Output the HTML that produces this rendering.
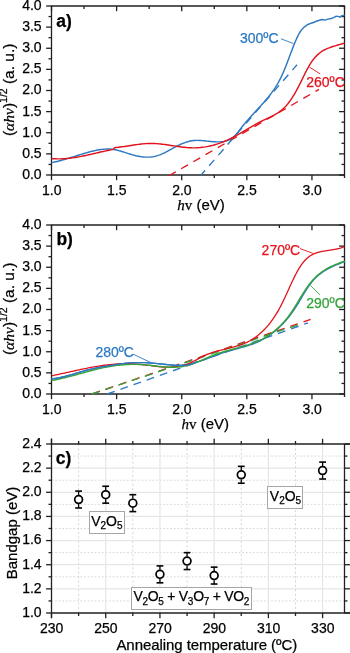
<!DOCTYPE html>
<html><head><meta charset="utf-8"><title>Bandgap figure</title>
<style>
html,body{margin:0;padding:0;background:#fff;width:350px;height:653px;overflow:hidden;}
svg{display:block;will-change:transform;}
text{font-family:"Liberation Sans",sans-serif;stroke-width:0.25px;stroke-linejoin:round;}
</style></head><body>
<svg width="350" height="653" viewBox="0 0 350 653">
<line x1="51.50" y1="6.00" x2="344.50" y2="6.00" stroke="#202020" stroke-width="1.30" />
<line x1="51.50" y1="175.00" x2="344.50" y2="175.00" stroke="#202020" stroke-width="1.30" />
<line x1="51.50" y1="5.50" x2="51.50" y2="175.50" stroke="#202020" stroke-width="1.30" />
<line x1="344.50" y1="5.50" x2="344.50" y2="175.50" stroke="#202020" stroke-width="1.30" />
<line x1="46.10" y1="175.00" x2="51.50" y2="175.00" stroke="#202020" stroke-width="1.30" />
<line x1="339.10" y1="175.00" x2="344.50" y2="175.00" stroke="#202020" stroke-width="1.30" />
<text x="41.60" y="178.90" font-size="14.00" text-anchor="end" fill="#000" stroke="#000" >0.0</text>
<line x1="48.50" y1="164.44" x2="51.50" y2="164.44" stroke="#202020" stroke-width="1.30" />
<line x1="341.50" y1="164.44" x2="344.50" y2="164.44" stroke="#202020" stroke-width="1.30" />
<line x1="46.10" y1="153.88" x2="51.50" y2="153.88" stroke="#202020" stroke-width="1.30" />
<line x1="339.10" y1="153.88" x2="344.50" y2="153.88" stroke="#202020" stroke-width="1.30" />
<text x="41.60" y="157.78" font-size="14.00" text-anchor="end" fill="#000" stroke="#000" >0.5</text>
<line x1="48.50" y1="143.31" x2="51.50" y2="143.31" stroke="#202020" stroke-width="1.30" />
<line x1="341.50" y1="143.31" x2="344.50" y2="143.31" stroke="#202020" stroke-width="1.30" />
<line x1="46.10" y1="132.75" x2="51.50" y2="132.75" stroke="#202020" stroke-width="1.30" />
<line x1="339.10" y1="132.75" x2="344.50" y2="132.75" stroke="#202020" stroke-width="1.30" />
<text x="41.60" y="136.65" font-size="14.00" text-anchor="end" fill="#000" stroke="#000" >1.0</text>
<line x1="48.50" y1="122.19" x2="51.50" y2="122.19" stroke="#202020" stroke-width="1.30" />
<line x1="341.50" y1="122.19" x2="344.50" y2="122.19" stroke="#202020" stroke-width="1.30" />
<line x1="46.10" y1="111.62" x2="51.50" y2="111.62" stroke="#202020" stroke-width="1.30" />
<line x1="339.10" y1="111.62" x2="344.50" y2="111.62" stroke="#202020" stroke-width="1.30" />
<text x="41.60" y="115.53" font-size="14.00" text-anchor="end" fill="#000" stroke="#000" >1.5</text>
<line x1="48.50" y1="101.06" x2="51.50" y2="101.06" stroke="#202020" stroke-width="1.30" />
<line x1="341.50" y1="101.06" x2="344.50" y2="101.06" stroke="#202020" stroke-width="1.30" />
<line x1="46.10" y1="90.50" x2="51.50" y2="90.50" stroke="#202020" stroke-width="1.30" />
<line x1="339.10" y1="90.50" x2="344.50" y2="90.50" stroke="#202020" stroke-width="1.30" />
<text x="41.60" y="94.40" font-size="14.00" text-anchor="end" fill="#000" stroke="#000" >2.0</text>
<line x1="48.50" y1="79.94" x2="51.50" y2="79.94" stroke="#202020" stroke-width="1.30" />
<line x1="341.50" y1="79.94" x2="344.50" y2="79.94" stroke="#202020" stroke-width="1.30" />
<line x1="46.10" y1="69.38" x2="51.50" y2="69.38" stroke="#202020" stroke-width="1.30" />
<line x1="339.10" y1="69.38" x2="344.50" y2="69.38" stroke="#202020" stroke-width="1.30" />
<text x="41.60" y="73.28" font-size="14.00" text-anchor="end" fill="#000" stroke="#000" >2.5</text>
<line x1="48.50" y1="58.81" x2="51.50" y2="58.81" stroke="#202020" stroke-width="1.30" />
<line x1="341.50" y1="58.81" x2="344.50" y2="58.81" stroke="#202020" stroke-width="1.30" />
<line x1="46.10" y1="48.25" x2="51.50" y2="48.25" stroke="#202020" stroke-width="1.30" />
<line x1="339.10" y1="48.25" x2="344.50" y2="48.25" stroke="#202020" stroke-width="1.30" />
<text x="41.60" y="52.15" font-size="14.00" text-anchor="end" fill="#000" stroke="#000" >3.0</text>
<line x1="48.50" y1="37.69" x2="51.50" y2="37.69" stroke="#202020" stroke-width="1.30" />
<line x1="341.50" y1="37.69" x2="344.50" y2="37.69" stroke="#202020" stroke-width="1.30" />
<line x1="46.10" y1="27.12" x2="51.50" y2="27.12" stroke="#202020" stroke-width="1.30" />
<line x1="339.10" y1="27.12" x2="344.50" y2="27.12" stroke="#202020" stroke-width="1.30" />
<text x="41.60" y="31.02" font-size="14.00" text-anchor="end" fill="#000" stroke="#000" >3.5</text>
<line x1="48.50" y1="16.56" x2="51.50" y2="16.56" stroke="#202020" stroke-width="1.30" />
<line x1="341.50" y1="16.56" x2="344.50" y2="16.56" stroke="#202020" stroke-width="1.30" />
<line x1="46.10" y1="6.00" x2="51.50" y2="6.00" stroke="#202020" stroke-width="1.30" />
<line x1="339.10" y1="6.00" x2="344.50" y2="6.00" stroke="#202020" stroke-width="1.30" />
<text x="41.60" y="9.90" font-size="14.00" text-anchor="end" fill="#000" stroke="#000" >4.0</text>
<line x1="51.50" y1="175.00" x2="51.50" y2="180.20" stroke="#202020" stroke-width="1.30" />
<line x1="51.50" y1="6.00" x2="51.50" y2="11.20" stroke="#202020" stroke-width="1.30" />
<text x="51.70" y="195.20" font-size="14.00" text-anchor="middle" fill="#000" stroke="#000" >1.0</text>
<line x1="84.06" y1="175.00" x2="84.06" y2="178.00" stroke="#202020" stroke-width="1.30" />
<line x1="84.06" y1="6.00" x2="84.06" y2="9.00" stroke="#202020" stroke-width="1.30" />
<line x1="116.61" y1="175.00" x2="116.61" y2="180.20" stroke="#202020" stroke-width="1.30" />
<line x1="116.61" y1="6.00" x2="116.61" y2="11.20" stroke="#202020" stroke-width="1.30" />
<text x="116.81" y="195.20" font-size="14.00" text-anchor="middle" fill="#000" stroke="#000" >1.5</text>
<line x1="149.17" y1="175.00" x2="149.17" y2="178.00" stroke="#202020" stroke-width="1.30" />
<line x1="149.17" y1="6.00" x2="149.17" y2="9.00" stroke="#202020" stroke-width="1.30" />
<line x1="181.72" y1="175.00" x2="181.72" y2="180.20" stroke="#202020" stroke-width="1.30" />
<line x1="181.72" y1="6.00" x2="181.72" y2="11.20" stroke="#202020" stroke-width="1.30" />
<text x="181.92" y="195.20" font-size="14.00" text-anchor="middle" fill="#000" stroke="#000" >2.0</text>
<line x1="214.28" y1="175.00" x2="214.28" y2="178.00" stroke="#202020" stroke-width="1.30" />
<line x1="214.28" y1="6.00" x2="214.28" y2="9.00" stroke="#202020" stroke-width="1.30" />
<line x1="246.83" y1="175.00" x2="246.83" y2="180.20" stroke="#202020" stroke-width="1.30" />
<line x1="246.83" y1="6.00" x2="246.83" y2="11.20" stroke="#202020" stroke-width="1.30" />
<text x="247.03" y="195.20" font-size="14.00" text-anchor="middle" fill="#000" stroke="#000" >2.5</text>
<line x1="279.39" y1="175.00" x2="279.39" y2="178.00" stroke="#202020" stroke-width="1.30" />
<line x1="279.39" y1="6.00" x2="279.39" y2="9.00" stroke="#202020" stroke-width="1.30" />
<line x1="311.94" y1="175.00" x2="311.94" y2="180.20" stroke="#202020" stroke-width="1.30" />
<line x1="311.94" y1="6.00" x2="311.94" y2="11.20" stroke="#202020" stroke-width="1.30" />
<text x="312.14" y="195.20" font-size="14.00" text-anchor="middle" fill="#000" stroke="#000" >3.0</text>
<line x1="344.50" y1="175.00" x2="344.50" y2="178.00" stroke="#202020" stroke-width="1.30" />
<line x1="344.50" y1="6.00" x2="344.50" y2="9.00" stroke="#202020" stroke-width="1.30" />
<text x="177.30" y="209.50" font-size="15.00" fill="#000" stroke="#000"><tspan font-family="Liberation Serif" font-style="italic">h</tspan><tspan font-family="Liberation Serif">v</tspan> (eV)</text>
<text transform="translate(14.0,89.80) rotate(-90)" font-size="15.5" text-anchor="middle" fill="#000" stroke="#000">(<tspan font-family="Liberation Serif" font-style="italic">&#945;h&#957;</tspan>)<tspan font-size="10.5" dy="-6.8">1/2</tspan><tspan dy="6.8"> (a. u.)</tspan></text>
<text x="56.20" y="27.00" font-size="17.50" text-anchor="start" fill="#000" stroke="#000" font-weight="bold">a)</text>
<line x1="169.4" y1="175.5" x2="319" y2="89.4" stroke="#e3131d" stroke-width="1.35" stroke-dasharray="7.9 6.2" stroke-dashoffset="0.6"/>
<line x1="201.1" y1="175" x2="297" y2="64.8" stroke="#2c78c2" stroke-width="1.35" stroke-dasharray="7.9 6.2" stroke-dashoffset="1.9"/>
<path d="M51.49,162.66 L52.94,162.38 L54.39,162.08 L55.83,161.76 L57.28,161.42 L58.72,161.06 L60.17,160.69 L61.61,160.30 L63.06,159.90 L64.50,159.49 L65.94,159.07 L67.39,158.64 L68.83,158.20 L70.27,157.75 L71.72,157.30 L73.16,156.85 L74.60,156.40 L76.05,155.94 L77.49,155.49 L78.93,155.04 L80.38,154.59 L81.83,154.15 L83.27,153.71 L84.72,153.28 L86.17,152.86 L87.62,152.45 L89.07,152.06 L90.52,151.67 L91.97,151.30 L93.43,150.95 L94.88,150.62 L96.34,150.32 L97.80,150.04 L99.25,149.79 L100.71,149.57 L102.17,149.39 L103.63,149.24 L105.09,149.14 L106.54,149.07 L108.00,149.06 L109.46,149.09 L110.92,149.18 L112.37,149.32 L113.83,149.52 L115.28,149.77 L116.73,150.08 L118.19,150.44 L119.64,150.83 L121.10,151.25 L122.55,151.70 L124.01,152.17 L125.47,152.65 L126.93,153.13 L128.39,153.60 L129.85,154.06 L131.32,154.51 L132.79,154.92 L134.27,155.32 L135.75,155.68 L137.22,156.00 L138.70,156.29 L140.18,156.55 L141.65,156.76 L143.13,156.93 L144.60,157.05 L146.07,157.13 L147.53,157.15 L148.98,157.12 L150.44,157.03 L151.88,156.88 L153.31,156.67 L154.74,156.40 L156.16,156.06 L157.57,155.65 L158.96,155.18 L160.35,154.66 L161.74,154.08 L163.11,153.46 L164.48,152.81 L165.85,152.12 L167.21,151.41 L168.57,150.68 L169.92,149.93 L171.27,149.19 L172.63,148.44 L173.98,147.69 L175.33,146.96 L176.69,146.25 L178.05,145.56 L179.41,144.90 L180.77,144.27 L182.15,143.67 L183.53,143.12 L184.91,142.60 L186.31,142.13 L187.71,141.70 L189.13,141.33 L190.56,141.02 L192.00,140.76 L193.46,140.58 L194.93,140.45 L196.41,140.39 L197.91,140.39 L199.42,140.43 L200.94,140.52 L202.46,140.63 L203.99,140.77 L205.52,140.93 L207.06,141.10 L208.59,141.27 L210.13,141.43 L211.66,141.57 L213.19,141.70 L214.71,141.80 L216.21,141.87 L217.71,141.89 L219.18,141.87 L220.64,141.80 L222.06,141.67 L223.47,141.48 L224.84,141.21 L226.17,140.87 L227.47,140.45 L228.73,139.94 L229.94,139.33 L231.11,138.62 L232.24,137.83 L233.33,136.94 L234.38,135.99 L235.41,134.96 L236.41,133.88 L237.39,132.76 L238.36,131.59 L239.31,130.40 L240.26,129.19 L241.22,127.96 L242.17,126.74 L243.14,125.53 L244.11,124.32 L245.10,123.13 L246.10,121.95 L247.10,120.78 L248.11,119.62 L249.13,118.47 L250.15,117.33 L251.18,116.19 L252.21,115.06 L253.24,113.93 L254.27,112.81 L255.31,111.69 L256.34,110.58 L257.37,109.46 L258.40,108.35 L259.42,107.24 L260.44,106.13 L261.45,105.02 L262.46,103.90 L263.46,102.78 L264.45,101.66 L265.43,100.53 L266.40,99.40 L267.36,98.26 L268.31,97.11 L269.24,95.96 L270.16,94.80 L271.06,93.63 L271.94,92.44 L272.81,91.25 L273.66,90.05 L274.49,88.83 L275.30,87.60 L276.09,86.35 L276.85,85.09 L277.60,83.81 L278.32,82.52 L279.03,81.22 L279.72,79.91 L280.39,78.58 L281.04,77.25 L281.68,75.90 L282.30,74.54 L282.92,73.18 L283.52,71.81 L284.10,70.43 L284.68,69.04 L285.25,67.65 L285.81,66.25 L286.37,64.84 L286.91,63.44 L287.46,62.03 L287.99,60.61 L288.53,59.20 L289.06,57.78 L289.59,56.36 L290.12,54.94 L290.65,53.53 L291.18,52.11 L291.72,50.70 L292.25,49.29 L292.80,47.88 L293.34,46.47 L293.90,45.07 L294.46,43.68 L295.03,42.29 L295.61,40.91 L296.20,39.54 L296.80,38.17 L297.43,36.83 L298.08,35.50 L298.77,34.20 L299.50,32.93 L300.28,31.70 L301.11,30.52 L302.01,29.39 L302.98,28.31 L304.03,27.29 L305.17,26.34 L306.40,25.47 L307.72,24.67 L309.16,23.96 L310.71,23.34 L310.79,23.31 L313.60,22.50 L316.40,21.20 L319.30,20.20 L322.10,19.50 L325.00,20.10 L327.90,19.10 L331.30,18.50 L333.60,17.60 L335.90,16.30 L338.10,16.40 L339.90,17.20 L341.60,15.90 L343.30,15.40 L344.50,15.80" fill="none" stroke="#2c78c2" stroke-width="1.45" stroke-linejoin="round"/>
<path d="M51.47,158.55 L52.99,158.68 L54.51,158.78 L56.02,158.84 L57.53,158.88 L59.04,158.89 L60.54,158.87 L62.04,158.82 L63.54,158.75 L65.03,158.66 L66.52,158.54 L68.01,158.40 L69.50,158.24 L70.98,158.06 L72.46,157.87 L73.94,157.65 L75.42,157.42 L76.90,157.17 L78.37,156.91 L79.85,156.64 L81.32,156.36 L82.79,156.06 L84.25,155.76 L85.72,155.44 L87.19,155.12 L88.65,154.80 L90.12,154.46 L91.58,154.13 L93.05,153.79 L94.51,153.45 L95.97,153.10 L97.43,152.76 L98.90,152.42 L100.36,152.08 L101.82,151.75 L103.29,151.42 L104.75,151.09 L106.21,150.78 L107.68,150.47 L109.14,150.17 L110.61,149.88 L112.08,149.60 L113.27,149.38 L114.48,147.63 L115.95,147.51 L117.42,147.37 L118.90,147.21 L120.38,147.03 L121.86,146.83 L123.34,146.63 L124.82,146.41 L126.31,146.19 L127.79,145.96 L129.28,145.73 L130.77,145.49 L132.26,145.26 L133.76,145.03 L135.25,144.81 L136.74,144.60 L138.24,144.40 L139.73,144.21 L141.23,144.03 L142.73,143.88 L144.22,143.74 L145.72,143.63 L147.21,143.54 L148.71,143.47 L150.20,143.44 L151.70,143.44 L153.19,143.46 L154.69,143.52 L156.18,143.61 L157.67,143.72 L159.16,143.85 L160.65,144.00 L162.15,144.17 L163.64,144.36 L165.13,144.56 L166.62,144.77 L168.11,144.98 L169.59,145.21 L171.08,145.44 L172.57,145.67 L174.06,145.90 L175.55,146.13 L177.04,146.36 L178.53,146.57 L180.01,146.78 L181.50,146.98 L182.99,147.16 L184.48,147.33 L185.97,147.47 L187.46,147.60 L188.94,147.71 L190.43,147.78 L191.92,147.84 L193.41,147.86 L194.90,147.85 L196.39,147.81 L197.88,147.73 L199.37,147.63 L200.85,147.49 L202.34,147.32 L203.82,147.12 L205.30,146.90 L206.77,146.64 L208.24,146.36 L209.71,146.05 L211.17,145.71 L212.63,145.35 L214.08,144.96 L215.52,144.54 L216.96,144.10 L218.39,143.64 L219.81,143.15 L221.23,142.64 L222.63,142.10 L224.03,141.55 L225.41,140.97 L226.79,140.37 L228.15,139.75 L229.51,139.10 L230.85,138.44 L232.19,137.77 L233.51,137.07 L234.83,136.37 L236.14,135.65 L237.44,134.92 L238.74,134.17 L240.04,133.42 L241.33,132.67 L242.62,131.91 L243.90,131.14 L245.19,130.37 L246.48,129.60 L247.76,128.83 L249.05,128.07 L250.35,127.31 L251.64,126.55 L252.94,125.80 L254.25,125.05 L255.56,124.32 L256.88,123.60 L258.20,122.89 L259.54,122.19 L260.88,121.51 L262.24,120.85 L263.60,120.20 L264.97,119.55 L266.34,118.91 L267.70,118.27 L269.07,117.63 L270.42,116.98 L271.76,116.31 L273.09,115.63 L274.41,114.92 L275.70,114.19 L276.97,113.43 L278.22,112.63 L279.43,111.79 L280.62,110.92 L281.77,110.00 L282.88,109.03 L283.96,108.02 L285.00,106.97 L286.01,105.89 L286.98,104.77 L287.92,103.63 L288.83,102.46 L289.72,101.28 L290.58,100.08 L291.42,98.86 L292.24,97.63 L293.03,96.38 L293.81,95.12 L294.57,93.85 L295.32,92.56 L296.05,91.26 L296.76,89.95 L297.47,88.63 L298.16,87.30 L298.85,85.97 L299.53,84.63 L300.20,83.28 L300.87,81.92 L301.54,80.56 L302.21,79.20 L302.88,77.84 L303.54,76.47 L304.22,75.11 L304.89,73.74 L305.58,72.38 L306.27,71.02 L306.98,69.67 L307.70,68.33 L308.43,67.00 L309.18,65.69 L309.96,64.40 L310.76,63.13 L311.58,61.89 L312.43,60.68 L313.31,59.49 L314.22,58.34 L315.17,57.23 L316.16,56.16 L317.18,55.13 L318.25,54.14 L319.36,53.20 L320.51,52.31 L321.72,51.48 L322.97,50.70 L324.28,49.98 L325.63,49.31 L327.01,48.69 L328.43,48.11 L329.87,47.56 L331.33,47.05 L332.81,46.56 L334.29,46.10 L335.77,45.66 L337.24,45.22 L338.70,44.80 L340.15,44.38 L341.56,43.96 L342.95,43.53 L344.30,43.09 L344.47,43.03" fill="none" stroke="#e3131d" stroke-width="1.45" stroke-linejoin="round"/>
<text x="240.00" y="42.70" font-size="14.00" text-anchor="start" fill="#2c78c2" stroke="#2c78c2" >300ºC</text>
<line x1="281.00" y1="38.80" x2="293.50" y2="43.60" stroke="#2c78c2" stroke-width="0.90" />
<text x="306.20" y="86.60" font-size="14.00" text-anchor="start" fill="#e3131d" stroke="#e3131d" >260ºC</text>
<line x1="309.70" y1="67.30" x2="320.20" y2="73.90" stroke="#e3131d" stroke-width="0.90" />
<line x1="51.50" y1="225.00" x2="344.50" y2="225.00" stroke="#202020" stroke-width="1.30" />
<line x1="51.50" y1="394.00" x2="344.50" y2="394.00" stroke="#202020" stroke-width="1.30" />
<line x1="51.50" y1="224.50" x2="51.50" y2="394.50" stroke="#202020" stroke-width="1.30" />
<line x1="344.50" y1="224.50" x2="344.50" y2="394.50" stroke="#202020" stroke-width="1.30" />
<line x1="46.10" y1="394.00" x2="51.50" y2="394.00" stroke="#202020" stroke-width="1.30" />
<line x1="339.10" y1="394.00" x2="344.50" y2="394.00" stroke="#202020" stroke-width="1.30" />
<text x="41.60" y="397.90" font-size="14.00" text-anchor="end" fill="#000" stroke="#000" >0.0</text>
<line x1="48.50" y1="383.44" x2="51.50" y2="383.44" stroke="#202020" stroke-width="1.30" />
<line x1="341.50" y1="383.44" x2="344.50" y2="383.44" stroke="#202020" stroke-width="1.30" />
<line x1="46.10" y1="372.88" x2="51.50" y2="372.88" stroke="#202020" stroke-width="1.30" />
<line x1="339.10" y1="372.88" x2="344.50" y2="372.88" stroke="#202020" stroke-width="1.30" />
<text x="41.60" y="376.77" font-size="14.00" text-anchor="end" fill="#000" stroke="#000" >0.5</text>
<line x1="48.50" y1="362.31" x2="51.50" y2="362.31" stroke="#202020" stroke-width="1.30" />
<line x1="341.50" y1="362.31" x2="344.50" y2="362.31" stroke="#202020" stroke-width="1.30" />
<line x1="46.10" y1="351.75" x2="51.50" y2="351.75" stroke="#202020" stroke-width="1.30" />
<line x1="339.10" y1="351.75" x2="344.50" y2="351.75" stroke="#202020" stroke-width="1.30" />
<text x="41.60" y="355.65" font-size="14.00" text-anchor="end" fill="#000" stroke="#000" >1.0</text>
<line x1="48.50" y1="341.19" x2="51.50" y2="341.19" stroke="#202020" stroke-width="1.30" />
<line x1="341.50" y1="341.19" x2="344.50" y2="341.19" stroke="#202020" stroke-width="1.30" />
<line x1="46.10" y1="330.62" x2="51.50" y2="330.62" stroke="#202020" stroke-width="1.30" />
<line x1="339.10" y1="330.62" x2="344.50" y2="330.62" stroke="#202020" stroke-width="1.30" />
<text x="41.60" y="334.52" font-size="14.00" text-anchor="end" fill="#000" stroke="#000" >1.5</text>
<line x1="48.50" y1="320.06" x2="51.50" y2="320.06" stroke="#202020" stroke-width="1.30" />
<line x1="341.50" y1="320.06" x2="344.50" y2="320.06" stroke="#202020" stroke-width="1.30" />
<line x1="46.10" y1="309.50" x2="51.50" y2="309.50" stroke="#202020" stroke-width="1.30" />
<line x1="339.10" y1="309.50" x2="344.50" y2="309.50" stroke="#202020" stroke-width="1.30" />
<text x="41.60" y="313.40" font-size="14.00" text-anchor="end" fill="#000" stroke="#000" >2.0</text>
<line x1="48.50" y1="298.94" x2="51.50" y2="298.94" stroke="#202020" stroke-width="1.30" />
<line x1="341.50" y1="298.94" x2="344.50" y2="298.94" stroke="#202020" stroke-width="1.30" />
<line x1="46.10" y1="288.38" x2="51.50" y2="288.38" stroke="#202020" stroke-width="1.30" />
<line x1="339.10" y1="288.38" x2="344.50" y2="288.38" stroke="#202020" stroke-width="1.30" />
<text x="41.60" y="292.27" font-size="14.00" text-anchor="end" fill="#000" stroke="#000" >2.5</text>
<line x1="48.50" y1="277.81" x2="51.50" y2="277.81" stroke="#202020" stroke-width="1.30" />
<line x1="341.50" y1="277.81" x2="344.50" y2="277.81" stroke="#202020" stroke-width="1.30" />
<line x1="46.10" y1="267.25" x2="51.50" y2="267.25" stroke="#202020" stroke-width="1.30" />
<line x1="339.10" y1="267.25" x2="344.50" y2="267.25" stroke="#202020" stroke-width="1.30" />
<text x="41.60" y="271.15" font-size="14.00" text-anchor="end" fill="#000" stroke="#000" >3.0</text>
<line x1="48.50" y1="256.69" x2="51.50" y2="256.69" stroke="#202020" stroke-width="1.30" />
<line x1="341.50" y1="256.69" x2="344.50" y2="256.69" stroke="#202020" stroke-width="1.30" />
<line x1="46.10" y1="246.12" x2="51.50" y2="246.12" stroke="#202020" stroke-width="1.30" />
<line x1="339.10" y1="246.12" x2="344.50" y2="246.12" stroke="#202020" stroke-width="1.30" />
<text x="41.60" y="250.03" font-size="14.00" text-anchor="end" fill="#000" stroke="#000" >3.5</text>
<line x1="48.50" y1="235.56" x2="51.50" y2="235.56" stroke="#202020" stroke-width="1.30" />
<line x1="341.50" y1="235.56" x2="344.50" y2="235.56" stroke="#202020" stroke-width="1.30" />
<line x1="46.10" y1="225.00" x2="51.50" y2="225.00" stroke="#202020" stroke-width="1.30" />
<line x1="339.10" y1="225.00" x2="344.50" y2="225.00" stroke="#202020" stroke-width="1.30" />
<text x="41.60" y="228.90" font-size="14.00" text-anchor="end" fill="#000" stroke="#000" >4.0</text>
<line x1="51.50" y1="394.00" x2="51.50" y2="399.20" stroke="#202020" stroke-width="1.30" />
<line x1="51.50" y1="225.00" x2="51.50" y2="230.20" stroke="#202020" stroke-width="1.30" />
<text x="51.70" y="414.20" font-size="14.00" text-anchor="middle" fill="#000" stroke="#000" >1.0</text>
<line x1="84.06" y1="394.00" x2="84.06" y2="397.00" stroke="#202020" stroke-width="1.30" />
<line x1="84.06" y1="225.00" x2="84.06" y2="228.00" stroke="#202020" stroke-width="1.30" />
<line x1="116.61" y1="394.00" x2="116.61" y2="399.20" stroke="#202020" stroke-width="1.30" />
<line x1="116.61" y1="225.00" x2="116.61" y2="230.20" stroke="#202020" stroke-width="1.30" />
<text x="116.81" y="414.20" font-size="14.00" text-anchor="middle" fill="#000" stroke="#000" >1.5</text>
<line x1="149.17" y1="394.00" x2="149.17" y2="397.00" stroke="#202020" stroke-width="1.30" />
<line x1="149.17" y1="225.00" x2="149.17" y2="228.00" stroke="#202020" stroke-width="1.30" />
<line x1="181.72" y1="394.00" x2="181.72" y2="399.20" stroke="#202020" stroke-width="1.30" />
<line x1="181.72" y1="225.00" x2="181.72" y2="230.20" stroke="#202020" stroke-width="1.30" />
<text x="181.92" y="414.20" font-size="14.00" text-anchor="middle" fill="#000" stroke="#000" >2.0</text>
<line x1="214.28" y1="394.00" x2="214.28" y2="397.00" stroke="#202020" stroke-width="1.30" />
<line x1="214.28" y1="225.00" x2="214.28" y2="228.00" stroke="#202020" stroke-width="1.30" />
<line x1="246.83" y1="394.00" x2="246.83" y2="399.20" stroke="#202020" stroke-width="1.30" />
<line x1="246.83" y1="225.00" x2="246.83" y2="230.20" stroke="#202020" stroke-width="1.30" />
<text x="247.03" y="414.20" font-size="14.00" text-anchor="middle" fill="#000" stroke="#000" >2.5</text>
<line x1="279.39" y1="394.00" x2="279.39" y2="397.00" stroke="#202020" stroke-width="1.30" />
<line x1="279.39" y1="225.00" x2="279.39" y2="228.00" stroke="#202020" stroke-width="1.30" />
<line x1="311.94" y1="394.00" x2="311.94" y2="399.20" stroke="#202020" stroke-width="1.30" />
<line x1="311.94" y1="225.00" x2="311.94" y2="230.20" stroke="#202020" stroke-width="1.30" />
<text x="312.14" y="414.20" font-size="14.00" text-anchor="middle" fill="#000" stroke="#000" >3.0</text>
<line x1="344.50" y1="394.00" x2="344.50" y2="397.00" stroke="#202020" stroke-width="1.30" />
<line x1="344.50" y1="225.00" x2="344.50" y2="228.00" stroke="#202020" stroke-width="1.30" />
<text x="181.60" y="428.50" font-size="15.00" fill="#000" stroke="#000"><tspan font-family="Liberation Serif" font-style="italic">h</tspan><tspan font-family="Liberation Serif">v</tspan> (eV)</text>
<text transform="translate(14.0,308.80) rotate(-90)" font-size="15.5" text-anchor="middle" fill="#000" stroke="#000">(<tspan font-family="Liberation Serif" font-style="italic">&#945;h&#957;</tspan>)<tspan font-size="10.5" dy="-6.8">1/2</tspan><tspan dy="6.8"> (a. u.)</tspan></text>
<text x="56.40" y="244.90" font-size="17.50" text-anchor="start" fill="#000" stroke="#000" font-weight="bold">b)</text>
<line x1="92.6" y1="393.76" x2="310.6" y2="319.4" stroke="#e3131d" stroke-width="1.35" stroke-dasharray="7.85 6.08"/>
<line x1="91.9" y1="394" x2="298.5" y2="324.7" stroke="#34a43a" stroke-width="1.35" stroke-dasharray="7.85 6.08"/>
<line x1="107.3" y1="394" x2="308" y2="322.9" stroke="#2c78c2" stroke-width="1.35" stroke-dasharray="7.85 6.08"/>
<path d="M51.52,378.76 L53.02,378.56 L54.51,378.34 L56.00,378.10 L57.48,377.85 L58.95,377.57 L60.42,377.27 L61.88,376.96 L63.34,376.63 L64.80,376.29 L66.25,375.94 L67.70,375.57 L69.14,375.20 L70.58,374.82 L72.02,374.43 L73.46,374.03 L74.90,373.63 L76.33,373.23 L77.77,372.82 L79.20,372.42 L80.63,372.01 L82.07,371.61 L83.50,371.21 L84.94,370.81 L86.38,370.42 L87.82,370.04 L89.26,369.66 L90.71,369.30 L92.16,368.94 L93.61,368.60 L95.06,368.26 L96.52,367.93 L97.98,367.62 L99.44,367.31 L100.90,367.01 L102.37,366.72 L103.84,366.44 L105.31,366.17 L106.78,365.90 L108.25,365.64 L109.72,365.39 L111.20,365.15 L112.68,364.92 L114.15,364.69 L115.63,364.48 L117.11,364.27 L118.59,364.07 L120.08,363.88 L121.56,363.70 L123.05,363.54 L124.53,363.38 L126.02,363.24 L127.50,363.11 L128.99,362.99 L130.48,362.88 L131.97,362.79 L133.46,362.71 L134.96,362.65 L136.45,362.60 L137.94,362.57 L139.44,362.55 L140.93,362.55 L142.42,362.56 L143.92,362.59 L145.42,362.64 L146.91,362.71 L148.41,362.79 L149.91,362.90 L151.41,363.02 L152.91,363.16 L154.40,363.31 L155.90,363.47 L157.40,363.65 L158.90,363.82 L160.40,364.00 L161.89,364.18 L163.39,364.35 L164.89,364.52 L166.38,364.68 L167.87,364.82 L169.36,364.96 L170.85,365.07 L172.34,365.16 L173.83,365.23 L175.31,365.28 L176.79,365.29 L178.27,365.27 L179.75,365.22 L181.22,365.13 L182.69,365.00 L184.16,364.84 L185.63,364.64 L187.09,364.42 L188.55,364.16 L190.00,363.87 L191.45,363.55 L192.90,363.20 L194.34,362.83 L195.78,362.44 L197.22,362.02 L198.65,361.58 L200.07,361.12 L201.50,360.65 L202.92,360.16 L204.34,359.66 L205.75,359.15 L207.17,358.63 L208.58,358.10 L209.99,357.57 L211.40,357.03 L212.82,356.50 L214.23,355.97 L215.64,355.44 L217.06,354.92 L218.47,354.40 L219.89,353.90 L221.31,353.41 L222.74,352.93 L224.17,352.47 L225.60,352.02 L227.03,351.59 L228.47,351.16 L229.90,350.75 L231.34,350.34 L232.78,349.93 L234.23,349.53 L235.67,349.14 L237.11,348.75 L238.56,348.35 L240.00,347.96 L241.45,347.56 L242.89,347.16 L244.33,346.75 L245.77,346.33 L247.20,345.90 L248.63,345.46 L250.06,345.00 L251.47,344.52 L252.88,344.02 L254.27,343.50 L255.66,342.95 L257.03,342.37 L258.39,341.76 L259.74,341.12 L261.07,340.45 L262.38,339.75 L263.69,339.03 L264.98,338.27 L266.25,337.49 L267.51,336.69 L268.75,335.86 L269.97,335.00 L271.18,334.13 L272.38,333.24 L273.56,332.32 L274.72,331.38 L275.87,330.42 L277.00,329.45 L278.12,328.45 L279.22,327.44 L280.30,326.40 L281.37,325.35 L282.43,324.28 L283.46,323.19 L284.48,322.09 L285.49,320.97 L286.48,319.84 L287.46,318.69 L288.41,317.52 L289.36,316.34 L290.28,315.15 L291.20,313.94 L292.09,312.72 L292.97,311.49 L293.84,310.25 L294.69,308.99 L295.52,307.72 L296.34,306.45 L297.14,305.16 L297.93,303.86 L298.72,302.56 L299.49,301.26 L300.26,299.95 L301.03,298.65 L301.79,297.34 L302.56,296.04 L303.33,294.74 L304.10,293.45 L304.88,292.17 L305.66,290.89 L306.46,289.63 L307.27,288.38 L308.10,287.15 L308.94,285.93 L309.80,284.74 L310.68,283.56 L311.58,282.40 L312.51,281.27 L313.46,280.16 L314.44,279.08 L315.46,278.03 L316.50,277.01 L317.58,276.02 L318.70,275.07 L319.85,274.14 L321.03,273.25 L322.24,272.39 L323.48,271.56 L324.75,270.76 L326.04,269.98 L327.35,269.24 L328.68,268.51 L330.03,267.82 L331.40,267.14 L332.78,266.49 L334.17,265.86 L335.57,265.25 L336.98,264.66 L338.39,264.09 L339.80,263.53 L341.22,262.99 L342.64,262.47 L344.05,261.96 L345.29,261.53" fill="none" stroke="#2c78c2" stroke-width="1.3" stroke-linejoin="round"/>
<path d="M51.53,375.82 L52.98,375.52 L54.43,375.22 L55.89,374.92 L57.34,374.61 L58.80,374.29 L60.26,373.98 L61.72,373.66 L63.18,373.34 L64.64,373.02 L66.10,372.69 L67.57,372.37 L69.03,372.04 L70.50,371.72 L71.97,371.39 L73.44,371.07 L74.91,370.75 L76.38,370.43 L77.85,370.11 L79.32,369.79 L80.79,369.48 L82.27,369.17 L83.74,368.86 L85.22,368.56 L86.69,368.27 L88.17,367.98 L89.65,367.69 L91.13,367.41 L92.61,367.14 L94.09,366.88 L95.57,366.62 L97.06,366.37 L98.54,366.13 L100.02,365.90 L101.51,365.68 L102.99,365.46 L104.48,365.26 L105.96,365.07 L107.45,364.89 L108.94,364.72 L110.43,364.56 L111.92,364.41 L113.41,364.28 L114.90,364.16 L116.39,364.06 L117.88,363.96 L119.37,363.89 L120.86,363.83 L122.35,363.78 L123.84,363.75 L125.34,363.73 L126.83,363.74 L128.32,363.75 L129.82,363.79 L131.31,363.84 L132.81,363.90 L134.30,363.98 L135.80,364.08 L137.29,364.18 L138.79,364.30 L140.29,364.44 L141.78,364.58 L143.28,364.74 L144.78,364.91 L146.28,365.09 L147.78,365.28 L149.28,365.47 L150.78,365.67 L152.28,365.87 L153.78,366.06 L155.27,366.25 L156.77,366.42 L158.27,366.59 L159.77,366.74 L161.27,366.88 L162.77,366.99 L164.26,367.09 L165.76,367.15 L167.26,367.19 L168.75,367.20 L170.25,367.17 L171.74,367.11 L173.23,367.00 L174.72,366.86 L176.21,366.68 L177.69,366.45 L179.16,366.19 L180.63,365.89 L182.09,365.55 L183.54,365.17 L184.97,364.75 L186.40,364.29 L187.81,363.79 L189.20,363.26 L190.58,362.68 L191.94,362.07 L193.28,361.42 L194.61,360.75 L195.93,360.06 L197.24,359.36 L198.56,358.65 L199.87,357.94 L201.19,357.24 L202.52,356.56 L203.86,355.91 L205.21,355.28 L206.58,354.69 L207.97,354.13 L209.37,353.60 L210.78,353.10 L212.21,352.63 L213.65,352.17 L215.10,351.74 L216.56,351.32 L218.02,350.92 L219.49,350.54 L220.97,350.16 L222.44,349.79 L223.92,349.43 L225.40,349.06 L226.89,348.70 L228.36,348.34 L229.84,347.97 L231.31,347.60 L232.78,347.21 L234.24,346.82 L235.69,346.41 L237.14,345.98 L238.57,345.53 L239.99,345.07 L241.40,344.57 L242.79,344.05 L244.17,343.50 L245.53,342.92 L246.87,342.31 L248.20,341.66 L249.50,340.97 L250.78,340.24 L252.05,339.49 L253.30,338.70 L254.52,337.87 L255.73,337.02 L256.91,336.14 L258.08,335.22 L259.23,334.28 L260.35,333.31 L261.46,332.32 L262.55,331.30 L263.62,330.25 L264.66,329.19 L265.69,328.10 L266.70,326.99 L267.69,325.86 L268.65,324.71 L269.60,323.54 L270.53,322.36 L271.44,321.16 L272.32,319.95 L273.19,318.72 L274.04,317.48 L274.86,316.22 L275.67,314.96 L276.45,313.69 L277.22,312.40 L277.97,311.11 L278.71,309.81 L279.43,308.50 L280.13,307.18 L280.83,305.85 L281.51,304.52 L282.18,303.18 L282.84,301.84 L283.49,300.49 L284.14,299.14 L284.78,297.78 L285.41,296.42 L286.04,295.05 L286.66,293.68 L287.28,292.31 L287.91,290.94 L288.53,289.57 L289.15,288.19 L289.77,286.82 L290.40,285.45 L291.03,284.07 L291.67,282.70 L292.31,281.33 L292.96,279.97 L293.62,278.60 L294.29,277.24 L294.97,275.88 L295.66,274.53 L296.36,273.18 L297.08,271.84 L297.82,270.52 L298.57,269.21 L299.35,267.92 L300.15,266.65 L300.98,265.41 L301.83,264.20 L302.71,263.03 L303.63,261.89 L304.58,260.80 L305.57,259.74 L306.59,258.74 L307.66,257.79 L308.77,256.89 L309.92,256.06 L311.13,255.28 L312.38,254.57 L313.68,253.94 L315.04,253.37 L316.44,252.87 L317.88,252.43 L319.36,252.04 L320.87,251.69 L322.40,251.38 L323.95,251.10 L325.51,250.84 L327.07,250.60 L328.63,250.37 L330.18,250.13 L331.71,249.89 L333.23,249.63 L334.73,249.36 L336.21,249.07 L337.67,248.76 L339.09,248.41 L340.49,248.03 L341.86,247.61 L343.20,247.15 L344.37,246.69" fill="none" stroke="#e3131d" stroke-width="1.3" stroke-linejoin="round"/>
<path d="M51.54,380.49 L53.01,380.23 L54.47,379.96 L55.94,379.67 L57.40,379.38 L58.86,379.07 L60.32,378.74 L61.78,378.41 L63.23,378.07 L64.68,377.72 L66.14,377.36 L67.59,376.99 L69.04,376.62 L70.49,376.24 L71.94,375.86 L73.38,375.47 L74.83,375.08 L76.28,374.68 L77.72,374.29 L79.17,373.89 L80.61,373.49 L82.06,373.09 L83.51,372.69 L84.95,372.29 L86.40,371.90 L87.85,371.51 L89.30,371.12 L90.74,370.73 L92.19,370.35 L93.65,369.98 L95.10,369.61 L96.55,369.25 L98.01,368.90 L99.46,368.56 L100.92,368.22 L102.38,367.90 L103.84,367.59 L105.31,367.29 L106.78,367.00 L108.25,366.72 L109.72,366.46 L111.19,366.22 L112.67,365.98 L114.15,365.77 L115.63,365.57 L117.11,365.38 L118.60,365.21 L120.09,365.05 L121.58,364.91 L123.07,364.79 L124.56,364.68 L126.06,364.58 L127.55,364.51 L129.05,364.45 L130.55,364.40 L132.05,364.37 L133.55,364.36 L135.05,364.37 L136.55,364.39 L138.06,364.42 L139.56,364.48 L141.06,364.55 L142.57,364.64 L144.07,364.75 L145.58,364.87 L147.08,365.01 L148.59,365.16 L150.09,365.32 L151.59,365.49 L153.10,365.66 L154.60,365.84 L156.10,366.02 L157.60,366.20 L159.10,366.37 L160.60,366.53 L162.09,366.69 L163.59,366.83 L165.08,366.96 L166.57,367.07 L168.06,367.16 L169.55,367.23 L171.03,367.27 L172.52,367.29 L174.00,367.28 L175.47,367.23 L176.95,367.15 L178.42,367.03 L179.89,366.88 L181.36,366.68 L182.82,366.44 L184.28,366.16 L185.73,365.85 L187.18,365.50 L188.62,365.11 L190.05,364.69 L191.48,364.24 L192.90,363.76 L194.31,363.25 L195.72,362.72 L197.12,362.17 L198.51,361.59 L199.90,361.01 L201.29,360.41 L202.67,359.80 L204.05,359.19 L205.43,358.58 L206.81,357.97 L208.19,357.36 L209.58,356.76 L210.97,356.18 L212.36,355.61 L213.76,355.06 L215.16,354.53 L216.57,354.02 L217.98,353.53 L219.40,353.06 L220.82,352.60 L222.25,352.15 L223.68,351.72 L225.11,351.30 L226.55,350.89 L227.99,350.49 L229.44,350.10 L230.88,349.71 L232.33,349.32 L233.78,348.93 L235.22,348.55 L236.67,348.16 L238.12,347.77 L239.57,347.38 L241.01,346.98 L242.45,346.58 L243.88,346.16 L245.32,345.74 L246.74,345.30 L248.16,344.86 L249.58,344.39 L250.99,343.91 L252.39,343.41 L253.78,342.90 L255.16,342.36 L256.53,341.80 L257.89,341.22 L259.24,340.61 L260.58,339.97 L261.91,339.31 L263.22,338.61 L264.52,337.89 L265.80,337.13 L267.07,336.35 L268.33,335.54 L269.57,334.70 L270.79,333.84 L272.00,332.94 L273.19,332.03 L274.37,331.09 L275.53,330.12 L276.67,329.13 L277.80,328.12 L278.91,327.09 L280.00,326.03 L281.07,324.96 L282.12,323.86 L283.16,322.75 L284.18,321.62 L285.17,320.47 L286.15,319.31 L287.11,318.13 L288.05,316.93 L288.96,315.72 L289.86,314.49 L290.73,313.26 L291.59,312.01 L292.43,310.75 L293.26,309.48 L294.07,308.21 L294.87,306.93 L295.66,305.64 L296.44,304.35 L297.22,303.06 L297.99,301.76 L298.76,300.47 L299.53,299.18 L300.30,297.89 L301.07,296.60 L301.84,295.32 L302.62,294.05 L303.41,292.78 L304.21,291.53 L305.01,290.28 L305.83,289.05 L306.67,287.83 L307.52,286.62 L308.39,285.43 L309.28,284.26 L310.19,283.10 L311.12,281.97 L312.08,280.85 L313.06,279.76 L314.07,278.69 L315.11,277.65 L316.18,276.63 L317.28,275.64 L318.40,274.67 L319.54,273.73 L320.72,272.81 L321.91,271.93 L323.13,271.07 L324.38,270.24 L325.65,269.44 L326.94,268.68 L328.25,267.94 L329.58,267.23 L330.93,266.56 L332.31,265.91 L333.69,265.30 L335.09,264.70 L336.50,264.13 L337.92,263.58 L339.35,263.05 L340.78,262.54 L342.21,262.04 L343.63,261.55 L344.64,261.21" fill="none" stroke="#34a43a" stroke-width="1.45" stroke-linejoin="round"/>
<path d="M51.50,378.71 L53.04,378.64 L54.56,378.52 L56.07,378.36 L57.56,378.16 L59.05,377.91 L60.52,377.64 L61.99,377.33 L63.45,377.00 L64.90,376.63 L66.34,376.25 L67.78,375.85 L69.21,375.43 L70.64,375.00 L72.06,374.55 L73.48,374.10 L74.90,373.65 L76.32,373.19 L77.74,372.74 L79.17,372.29 L80.59,371.85 L82.02,371.42 L83.45,371.00 L84.88,370.60 L86.32,370.22 L87.77,369.86 L89.22,369.52 L90.68,369.19 L92.14,368.87 L93.60,368.56 L95.06,368.26 L96.53,367.96 L98.00,367.68 L99.47,367.40 L100.94,367.13 L102.41,366.86 L103.88,366.59 L105.35,366.32 L106.82,366.05 L108.29,365.79 L109.76,365.53 L111.22,365.27 L112.69,365.02 L114.16,364.78 L115.63,364.54 L117.10,364.31 L118.58,364.09 L120.06,363.88 L121.54,363.69 L123.03,363.50 L124.51,363.33 L126.00,363.18 L127.50,363.04 L128.99,362.92 L130.49,362.82 L131.98,362.73 L133.47,362.67 L134.97,362.62 L136.46,362.59 L137.96,362.57 L139.45,362.57 L140.95,362.59 L142.44,362.62 L143.93,362.66 L145.43,362.72 L146.92,362.79 L148.42,362.87 L149.91,362.96 L151.41,363.05 L152.90,363.16 L154.39,363.27 L155.89,363.40 L157.38,363.53 L158.88,363.66 L160.37,363.80 L161.86,363.94 L163.36,364.09 L164.85,364.23 L166.35,364.39 L167.84,364.54 L169.33,364.69 L170.83,364.84 L172.32,364.99 L173.81,365.13 L175.30,365.26 L176.79,365.37 L178.28,365.45 L179.77,365.50 L181.25,365.51 L182.72,365.48 L184.20,365.40 L185.66,365.26 L187.12,365.05 L188.58,364.78 L190.02,364.42 L191.46,363.99 L192.89,363.47 L194.31,362.85 L195.73,362.13 L197.11,361.31" fill="none" stroke="#2c78c2" stroke-width="1.25" stroke-linejoin="round"/>
<text x="261.60" y="255.00" font-size="14.00" text-anchor="start" fill="#e3131d" stroke="#e3131d" >270ºC</text>
<line x1="300.00" y1="248.60" x2="312.90" y2="253.30" stroke="#e3131d" stroke-width="0.90" />
<text x="306.20" y="307.70" font-size="14.00" text-anchor="start" fill="#34a43a" stroke="#34a43a" >290ºC</text>
<line x1="310.40" y1="285.40" x2="319.90" y2="294.80" stroke="#34a43a" stroke-width="0.90" />
<text x="95.40" y="356.90" font-size="14.00" text-anchor="start" fill="#2c78c2" stroke="#2c78c2" >280ºC</text>
<line x1="133.00" y1="354.10" x2="151.30" y2="362.80" stroke="#2c78c2" stroke-width="0.90" />
<line x1="51.50" y1="600.93" x2="344.50" y2="600.93" stroke="#d8d8d8" stroke-width="1.00" stroke-dasharray="1.8 1.8"/>
<line x1="51.50" y1="588.86" x2="344.50" y2="588.86" stroke="#e6e6e6" stroke-width="1.20" />
<line x1="51.50" y1="576.79" x2="344.50" y2="576.79" stroke="#d8d8d8" stroke-width="1.00" stroke-dasharray="1.8 1.8"/>
<line x1="51.50" y1="564.71" x2="344.50" y2="564.71" stroke="#e6e6e6" stroke-width="1.20" />
<line x1="51.50" y1="552.64" x2="344.50" y2="552.64" stroke="#d8d8d8" stroke-width="1.00" stroke-dasharray="1.8 1.8"/>
<line x1="51.50" y1="540.57" x2="344.50" y2="540.57" stroke="#e6e6e6" stroke-width="1.20" />
<line x1="51.50" y1="528.50" x2="344.50" y2="528.50" stroke="#d8d8d8" stroke-width="1.00" stroke-dasharray="1.8 1.8"/>
<line x1="51.50" y1="516.43" x2="344.50" y2="516.43" stroke="#e6e6e6" stroke-width="1.20" />
<line x1="51.50" y1="504.36" x2="344.50" y2="504.36" stroke="#d8d8d8" stroke-width="1.00" stroke-dasharray="1.8 1.8"/>
<line x1="51.50" y1="492.29" x2="344.50" y2="492.29" stroke="#e6e6e6" stroke-width="1.20" />
<line x1="51.50" y1="480.21" x2="344.50" y2="480.21" stroke="#d8d8d8" stroke-width="1.00" stroke-dasharray="1.8 1.8"/>
<line x1="51.50" y1="468.14" x2="344.50" y2="468.14" stroke="#e6e6e6" stroke-width="1.20" />
<line x1="51.50" y1="456.07" x2="344.50" y2="456.07" stroke="#d8d8d8" stroke-width="1.00" stroke-dasharray="1.8 1.8"/>
<line x1="78.61" y1="444.00" x2="78.61" y2="613.00" stroke="#d8d8d8" stroke-width="1.00" stroke-dasharray="2.2 2.2"/>
<line x1="105.72" y1="444.00" x2="105.72" y2="613.00" stroke="#e6e6e6" stroke-width="1.20" />
<line x1="132.83" y1="444.00" x2="132.83" y2="613.00" stroke="#d8d8d8" stroke-width="1.00" stroke-dasharray="2.2 2.2"/>
<line x1="159.94" y1="444.00" x2="159.94" y2="613.00" stroke="#e6e6e6" stroke-width="1.20" />
<line x1="187.05" y1="444.00" x2="187.05" y2="613.00" stroke="#d8d8d8" stroke-width="1.00" stroke-dasharray="2.2 2.2"/>
<line x1="214.16" y1="444.00" x2="214.16" y2="613.00" stroke="#e6e6e6" stroke-width="1.20" />
<line x1="241.27" y1="444.00" x2="241.27" y2="613.00" stroke="#d8d8d8" stroke-width="1.00" stroke-dasharray="2.2 2.2"/>
<line x1="268.38" y1="444.00" x2="268.38" y2="613.00" stroke="#e6e6e6" stroke-width="1.20" />
<line x1="295.49" y1="444.00" x2="295.49" y2="613.00" stroke="#d8d8d8" stroke-width="1.00" stroke-dasharray="2.2 2.2"/>
<line x1="322.60" y1="444.00" x2="322.60" y2="613.00" stroke="#e6e6e6" stroke-width="1.20" />
<line x1="51.50" y1="444.00" x2="350.00" y2="444.00" stroke="#202020" stroke-width="1.30" />
<line x1="51.50" y1="613.00" x2="350.00" y2="613.00" stroke="#202020" stroke-width="1.30" />
<line x1="51.50" y1="438.50" x2="51.50" y2="618.20" stroke="#202020" stroke-width="1.30" />
<line x1="344.50" y1="444.00" x2="344.50" y2="613.00" stroke="#202020" stroke-width="1.30" />
<line x1="46.10" y1="613.00" x2="51.50" y2="613.00" stroke="#202020" stroke-width="1.30" />
<line x1="344.50" y1="613.00" x2="349.90" y2="613.00" stroke="#202020" stroke-width="1.30" />
<text x="41.60" y="616.90" font-size="14.00" text-anchor="end" fill="#000" stroke="#000" >1.0</text>
<line x1="48.50" y1="600.93" x2="51.50" y2="600.93" stroke="#202020" stroke-width="1.30" />
<line x1="344.50" y1="600.93" x2="347.50" y2="600.93" stroke="#202020" stroke-width="1.30" />
<line x1="46.10" y1="588.86" x2="51.50" y2="588.86" stroke="#202020" stroke-width="1.30" />
<line x1="344.50" y1="588.86" x2="349.90" y2="588.86" stroke="#202020" stroke-width="1.30" />
<text x="41.60" y="592.76" font-size="14.00" text-anchor="end" fill="#000" stroke="#000" >1.2</text>
<line x1="48.50" y1="576.79" x2="51.50" y2="576.79" stroke="#202020" stroke-width="1.30" />
<line x1="344.50" y1="576.79" x2="347.50" y2="576.79" stroke="#202020" stroke-width="1.30" />
<line x1="46.10" y1="564.71" x2="51.50" y2="564.71" stroke="#202020" stroke-width="1.30" />
<line x1="344.50" y1="564.71" x2="349.90" y2="564.71" stroke="#202020" stroke-width="1.30" />
<text x="41.60" y="568.61" font-size="14.00" text-anchor="end" fill="#000" stroke="#000" >1.4</text>
<line x1="48.50" y1="552.64" x2="51.50" y2="552.64" stroke="#202020" stroke-width="1.30" />
<line x1="344.50" y1="552.64" x2="347.50" y2="552.64" stroke="#202020" stroke-width="1.30" />
<line x1="46.10" y1="540.57" x2="51.50" y2="540.57" stroke="#202020" stroke-width="1.30" />
<line x1="344.50" y1="540.57" x2="349.90" y2="540.57" stroke="#202020" stroke-width="1.30" />
<text x="41.60" y="544.47" font-size="14.00" text-anchor="end" fill="#000" stroke="#000" >1.6</text>
<line x1="48.50" y1="528.50" x2="51.50" y2="528.50" stroke="#202020" stroke-width="1.30" />
<line x1="344.50" y1="528.50" x2="347.50" y2="528.50" stroke="#202020" stroke-width="1.30" />
<line x1="46.10" y1="516.43" x2="51.50" y2="516.43" stroke="#202020" stroke-width="1.30" />
<line x1="344.50" y1="516.43" x2="349.90" y2="516.43" stroke="#202020" stroke-width="1.30" />
<text x="41.60" y="520.33" font-size="14.00" text-anchor="end" fill="#000" stroke="#000" >1.8</text>
<line x1="48.50" y1="504.36" x2="51.50" y2="504.36" stroke="#202020" stroke-width="1.30" />
<line x1="344.50" y1="504.36" x2="347.50" y2="504.36" stroke="#202020" stroke-width="1.30" />
<line x1="46.10" y1="492.29" x2="51.50" y2="492.29" stroke="#202020" stroke-width="1.30" />
<line x1="344.50" y1="492.29" x2="349.90" y2="492.29" stroke="#202020" stroke-width="1.30" />
<text x="41.60" y="496.19" font-size="14.00" text-anchor="end" fill="#000" stroke="#000" >2.0</text>
<line x1="48.50" y1="480.21" x2="51.50" y2="480.21" stroke="#202020" stroke-width="1.30" />
<line x1="344.50" y1="480.21" x2="347.50" y2="480.21" stroke="#202020" stroke-width="1.30" />
<line x1="46.10" y1="468.14" x2="51.50" y2="468.14" stroke="#202020" stroke-width="1.30" />
<line x1="344.50" y1="468.14" x2="349.90" y2="468.14" stroke="#202020" stroke-width="1.30" />
<text x="41.60" y="472.04" font-size="14.00" text-anchor="end" fill="#000" stroke="#000" >2.2</text>
<line x1="48.50" y1="456.07" x2="51.50" y2="456.07" stroke="#202020" stroke-width="1.30" />
<line x1="344.50" y1="456.07" x2="347.50" y2="456.07" stroke="#202020" stroke-width="1.30" />
<line x1="46.10" y1="444.00" x2="51.50" y2="444.00" stroke="#202020" stroke-width="1.30" />
<line x1="344.50" y1="444.00" x2="349.90" y2="444.00" stroke="#202020" stroke-width="1.30" />
<text x="41.60" y="447.90" font-size="14.00" text-anchor="end" fill="#000" stroke="#000" >2.4</text>
<line x1="51.50" y1="613.00" x2="51.50" y2="618.20" stroke="#202020" stroke-width="1.30" />
<line x1="51.50" y1="438.80" x2="51.50" y2="444.00" stroke="#202020" stroke-width="1.30" />
<text x="51.70" y="633.20" font-size="14.00" text-anchor="middle" fill="#000" stroke="#000" >230</text>
<line x1="78.61" y1="613.00" x2="78.61" y2="616.00" stroke="#202020" stroke-width="1.30" />
<line x1="78.61" y1="441.00" x2="78.61" y2="444.00" stroke="#202020" stroke-width="1.30" />
<line x1="105.72" y1="613.00" x2="105.72" y2="618.20" stroke="#202020" stroke-width="1.30" />
<line x1="105.72" y1="438.80" x2="105.72" y2="444.00" stroke="#202020" stroke-width="1.30" />
<text x="105.92" y="633.20" font-size="14.00" text-anchor="middle" fill="#000" stroke="#000" >250</text>
<line x1="132.83" y1="613.00" x2="132.83" y2="616.00" stroke="#202020" stroke-width="1.30" />
<line x1="132.83" y1="441.00" x2="132.83" y2="444.00" stroke="#202020" stroke-width="1.30" />
<line x1="159.94" y1="613.00" x2="159.94" y2="618.20" stroke="#202020" stroke-width="1.30" />
<line x1="159.94" y1="438.80" x2="159.94" y2="444.00" stroke="#202020" stroke-width="1.30" />
<text x="160.14" y="633.20" font-size="14.00" text-anchor="middle" fill="#000" stroke="#000" >270</text>
<line x1="187.05" y1="613.00" x2="187.05" y2="616.00" stroke="#202020" stroke-width="1.30" />
<line x1="187.05" y1="441.00" x2="187.05" y2="444.00" stroke="#202020" stroke-width="1.30" />
<line x1="214.16" y1="613.00" x2="214.16" y2="618.20" stroke="#202020" stroke-width="1.30" />
<line x1="214.16" y1="438.80" x2="214.16" y2="444.00" stroke="#202020" stroke-width="1.30" />
<text x="214.36" y="633.20" font-size="14.00" text-anchor="middle" fill="#000" stroke="#000" >290</text>
<line x1="241.27" y1="613.00" x2="241.27" y2="616.00" stroke="#202020" stroke-width="1.30" />
<line x1="241.27" y1="441.00" x2="241.27" y2="444.00" stroke="#202020" stroke-width="1.30" />
<line x1="268.38" y1="613.00" x2="268.38" y2="618.20" stroke="#202020" stroke-width="1.30" />
<line x1="268.38" y1="438.80" x2="268.38" y2="444.00" stroke="#202020" stroke-width="1.30" />
<text x="268.58" y="633.20" font-size="14.00" text-anchor="middle" fill="#000" stroke="#000" >310</text>
<line x1="295.49" y1="613.00" x2="295.49" y2="616.00" stroke="#202020" stroke-width="1.30" />
<line x1="295.49" y1="441.00" x2="295.49" y2="444.00" stroke="#202020" stroke-width="1.30" />
<line x1="322.60" y1="613.00" x2="322.60" y2="618.20" stroke="#202020" stroke-width="1.30" />
<line x1="322.60" y1="438.80" x2="322.60" y2="444.00" stroke="#202020" stroke-width="1.30" />
<text x="322.80" y="633.20" font-size="14.00" text-anchor="middle" fill="#000" stroke="#000" >330</text>
<text x="116.4" y="649.6" font-size="15.00" fill="#000" stroke="#000" textLength="180.8" lengthAdjust="spacing">Annealing temperature (ºC)</text>
<text transform="translate(16.7,533.0) rotate(-90)" font-size="15.00" text-anchor="middle" fill="#000" stroke="#000">Bandgap (eV)</text>
<text x="55.80" y="464.40" font-size="17.50" text-anchor="start" fill="#000" stroke="#000" font-weight="bold">c)</text>
<rect x="89.50" y="511.50" width="35.00" height="22.00" fill="#fff" stroke="#a6a6a6" stroke-width="1"/>
<rect x="267.50" y="486.50" width="35.00" height="22.00" fill="#fff" stroke="#a6a6a6" stroke-width="1"/>
<rect x="131.50" y="587.50" width="120.00" height="22.00" fill="#fff" stroke="#a6a6a6" stroke-width="1"/>
<text x="91.20" y="526.00" font-size="14" fill="#000" stroke="#000">V<tspan font-size="10" dy="3.2">2</tspan><tspan dy="-3.2">O</tspan><tspan font-size="10" dy="3.2">5</tspan></text>
<text x="269.80" y="500.60" font-size="14" fill="#000" stroke="#000">V<tspan font-size="10" dy="3.2">2</tspan><tspan dy="-3.2">O</tspan><tspan font-size="10" dy="3.2">5</tspan></text>
<text x="133.4" y="601.4" font-size="14" fill="#000" stroke="#000" textLength="116" lengthAdjust="spacing">V<tspan font-size="10" dy="3.2">2</tspan><tspan dy="-3.2">O</tspan><tspan font-size="10" dy="3.2">5</tspan><tspan dy="-3.2"> + V</tspan><tspan font-size="10" dy="3.2">3</tspan><tspan dy="-3.2">O</tspan><tspan font-size="10" dy="3.2">7</tspan><tspan dy="-3.2"> + VO</tspan><tspan font-size="10" dy="3.2">2</tspan></text>
<line x1="78.61" y1="491.08" x2="78.61" y2="494.93" stroke="#000" stroke-width="1.30" />
<line x1="78.61" y1="504.13" x2="78.61" y2="507.98" stroke="#000" stroke-width="1.30" />
<line x1="75.21" y1="491.08" x2="82.01" y2="491.08" stroke="#000" stroke-width="1.60" />
<line x1="75.21" y1="507.98" x2="82.01" y2="507.98" stroke="#000" stroke-width="1.60" />
<circle cx="78.61" cy="499.53" r="3.9" fill="#fff" stroke="#000" stroke-width="1.7"/>
<line x1="105.72" y1="486.25" x2="105.72" y2="490.10" stroke="#000" stroke-width="1.30" />
<line x1="105.72" y1="499.30" x2="105.72" y2="503.15" stroke="#000" stroke-width="1.30" />
<line x1="102.32" y1="486.25" x2="109.12" y2="486.25" stroke="#000" stroke-width="1.60" />
<line x1="102.32" y1="503.15" x2="109.12" y2="503.15" stroke="#000" stroke-width="1.60" />
<circle cx="105.72" cy="494.70" r="3.9" fill="#fff" stroke="#000" stroke-width="1.7"/>
<line x1="132.83" y1="494.70" x2="132.83" y2="498.55" stroke="#000" stroke-width="1.30" />
<line x1="132.83" y1="507.75" x2="132.83" y2="511.60" stroke="#000" stroke-width="1.30" />
<line x1="129.43" y1="494.70" x2="136.23" y2="494.70" stroke="#000" stroke-width="1.60" />
<line x1="129.43" y1="511.60" x2="136.23" y2="511.60" stroke="#000" stroke-width="1.60" />
<circle cx="132.83" cy="503.15" r="3.9" fill="#fff" stroke="#000" stroke-width="1.7"/>
<line x1="159.94" y1="565.92" x2="159.94" y2="569.77" stroke="#000" stroke-width="1.30" />
<line x1="159.94" y1="578.97" x2="159.94" y2="582.82" stroke="#000" stroke-width="1.30" />
<line x1="156.54" y1="565.92" x2="163.34" y2="565.92" stroke="#000" stroke-width="1.60" />
<line x1="156.54" y1="582.82" x2="163.34" y2="582.82" stroke="#000" stroke-width="1.60" />
<circle cx="159.94" cy="574.37" r="3.9" fill="#fff" stroke="#000" stroke-width="1.7"/>
<line x1="187.05" y1="552.64" x2="187.05" y2="556.49" stroke="#000" stroke-width="1.30" />
<line x1="187.05" y1="565.69" x2="187.05" y2="569.54" stroke="#000" stroke-width="1.30" />
<line x1="183.65" y1="552.64" x2="190.45" y2="552.64" stroke="#000" stroke-width="1.60" />
<line x1="183.65" y1="569.54" x2="190.45" y2="569.54" stroke="#000" stroke-width="1.60" />
<circle cx="187.05" cy="561.09" r="3.9" fill="#fff" stroke="#000" stroke-width="1.7"/>
<line x1="214.16" y1="567.13" x2="214.16" y2="570.98" stroke="#000" stroke-width="1.30" />
<line x1="214.16" y1="580.18" x2="214.16" y2="584.03" stroke="#000" stroke-width="1.30" />
<line x1="210.76" y1="567.13" x2="217.56" y2="567.13" stroke="#000" stroke-width="1.60" />
<line x1="210.76" y1="584.03" x2="217.56" y2="584.03" stroke="#000" stroke-width="1.60" />
<circle cx="214.16" cy="575.58" r="3.9" fill="#fff" stroke="#000" stroke-width="1.7"/>
<line x1="241.27" y1="466.33" x2="241.27" y2="470.18" stroke="#000" stroke-width="1.30" />
<line x1="241.27" y1="479.38" x2="241.27" y2="483.23" stroke="#000" stroke-width="1.30" />
<line x1="237.87" y1="466.33" x2="244.67" y2="466.33" stroke="#000" stroke-width="1.60" />
<line x1="237.87" y1="483.23" x2="244.67" y2="483.23" stroke="#000" stroke-width="1.60" />
<circle cx="241.27" cy="474.78" r="3.9" fill="#fff" stroke="#000" stroke-width="1.7"/>
<line x1="322.60" y1="462.11" x2="322.60" y2="465.96" stroke="#000" stroke-width="1.30" />
<line x1="322.60" y1="475.16" x2="322.60" y2="479.01" stroke="#000" stroke-width="1.30" />
<line x1="319.20" y1="462.11" x2="326.00" y2="462.11" stroke="#000" stroke-width="1.60" />
<line x1="319.20" y1="479.01" x2="326.00" y2="479.01" stroke="#000" stroke-width="1.60" />
<circle cx="322.60" cy="470.56" r="3.9" fill="#fff" stroke="#000" stroke-width="1.7"/>
</svg>
</body></html>
